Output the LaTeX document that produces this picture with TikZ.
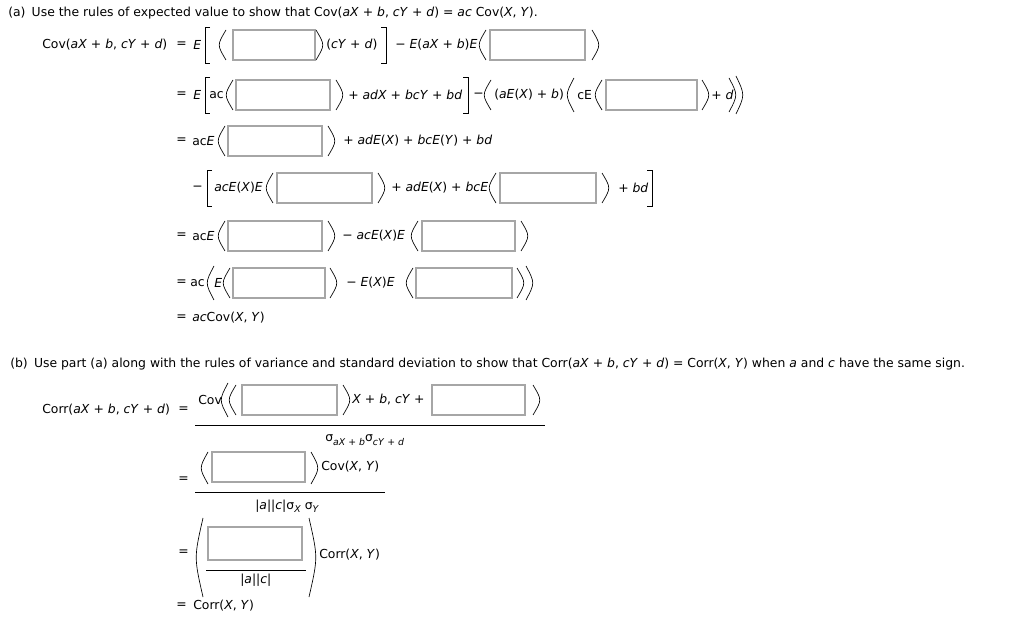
\documentclass[tikz,border=0pt]{standalone}
\usepackage{fontspec}
\setmainfont{DejaVu Sans}
\newcommand\lpar[3]{\draw[par] ({#1+5},#2) .. controls ({#1-4},{(#2+#3)/2}) .. ({#1+5},#3);}
\newcommand\rpar[3]{\draw[par] ({#1-5},#2) .. controls ({#1+4},{(#2+#3)/2}) .. ({#1-5},#3);}
\newcommand\lbr[3]{\draw[par] ({#1+5},#2) -- (#1,#2) -- (#1,#3) -- ({#1+5},#3);}
\newcommand\rbr[3]{\draw[par] ({#1-5},#2) -- (#1,#2) -- (#1,#3) -- ({#1-5},#3);}
\newcommand\bx[5]{\draw[box] (#2,#3) rectangle (#4,#5) node[midway,inner sep=0] (#1) {};}
\newcommand\tx[4]{\node[txt] (#1) at (#2,#3) {#4};}
\begin{document}
\begin{tikzpicture}[x=0.75pt,y=-0.75pt,
 txt/.style={anchor=west,inner sep=0,font=\fontsize{9.3}{11}\selectfont},
 par/.style={line width=0.5pt,black},
 box/.style={draw=gray!70,line width=0.8pt}]
\useasboundingbox (0,0) rectangle (1024,630);
\tx{ta}{8}{13}{(a)\enspace Use the rules of expected value to show that Cov(\textit{aX} + \textit{b}, \textit{cY} + \textit{d}) = \textit{ac} Cov(\textit{X}, \textit{Y}).}
% row 1
\tx{c1}{42}{45}{Cov(\textit{aX} + \textit{b}, \textit{cY} + \textit{d})}
\tx{q1}{176}{45}{=}\tx{e1}{193}{45}{\textit{E}}
\lbr{205}{27}{63}\lpar{221}{30}{60}\bx{b1}{233}{30}{315}{60}\rpar{321}{30}{60}
\tx{r1}{326}{45}{(\textit{cY} + \textit{d})}\rbr{386}{27}{63}
\tx{r1b}{395}{45}{− \textit{E}(\textit{aX} + \textit{b})\textit{E}}
\lpar{481}{30}{60}\bx{b2}{490}{30}{585}{60}\rpar{597}{30}{60}
% row 2
\tx{q2}{176}{95}{=}\tx{e2}{193}{95}{\textit{E}}
\lbr{205}{77}{113}\tx{r2a}{209}{95}{ac}\lpar{228}{80}{110}\bx{b3}{236}{80}{330}{110}\rpar{341}{80}{110}
\tx{r2b}{348}{95}{+ \textit{adX} + \textit{bcY} + \textit{bd}}\rbr{468}{77}{113}
\tx{r2c}{473}{95}{−}\lpar{486}{80}{110}\tx{r2d}{494}{95}{(\textit{aE}(\textit{X}) + \textit{b})}
\lpar{569}{78}{112}\tx{r2e}{577}{95}{cE}\lpar{597}{80}{110}\bx{b4}{606}{80}{697}{110}\rpar{707}{80}{110}
\tx{r2f}{711}{95}{+ \textit{d}}\rpar{734}{78}{112}\rpar{741}{76}{114}
% row 3
\tx{q3}{176}{141}{=}\tx{e3}{192}{141}{ac\textit{E}}\lpar{220}{126}{156}\bx{b5}{228}{126}{322}{156}\rpar{333}{126}{156}
\tx{r3}{343}{141}{+ \textit{adE}(\textit{X}) + \textit{bcE}(\textit{Y}) + \textit{bd}}
% row 4
\tx{e4}{192}{188}{−}\lbr{207}{170}{206}\tx{r4a}{214}{188}{\textit{acE}(\textit{X})\textit{E}}
\lpar{268}{173}{203}\bx{b6}{277}{173}{372}{203}\rpar{383}{173}{203}
\tx{r4b}{391}{188}{+ \textit{adE}(\textit{X}) + \textit{bcE}}
\lpar{491}{173}{203}\bx{b7}{500}{173}{596}{203}\rpar{607}{173}{203}
\tx{r4c}{618}{188}{+ \textit{bd}}\rbr{652}{170}{206}
% row 5
\tx{q5}{176}{236}{=}\tx{e5}{192}{236}{ac\textit{E}}\lpar{220}{221}{251}\bx{b8}{228}{221}{322}{251}\rpar{333}{221}{251}
\tx{r5}{342}{236}{− \textit{acE}(\textit{X})\textit{E}}\lpar{413}{221}{251}\bx{b9}{422}{221}{515}{251}\rpar{526}{221}{251}
% row 6
\tx{q6}{176}{283}{=}\tx{e6}{190}{283}{ac}\lpar{209}{266}{300}\tx{r6a}{214}{283}{\textit{E}}\lpar{225}{268}{298}\bx{b10}{233}{268}{325}{298}\rpar{335}{268}{298}
\tx{r6b}{346}{283}{− \textit{E}(\textit{X})\textit{E}}\lpar{408}{268}{298}\bx{b11}{416}{268}{512}{298}\rpar{522}{268}{298}\rpar{531}{266}{300}
\tx{q7}{176}{318}{=}\tx{e7}{192}{318}{\textit{ac}Cov(\textit{X}, \textit{Y})}
% (b)
\tx{tb}{10}{364}{(b)\enspace Use part (a) along with the rules of variance and standard deviation to show that Corr(\textit{aX} + \textit{b}, \textit{cY} + \textit{d}) = Corr(\textit{X}, \textit{Y}) when \textit{a} and \textit{c} have the same sign.}
\tx{c2}{42}{410}{Corr(\textit{aX} + \textit{b}, \textit{cY} + \textit{d})}
\tx{q8}{178}{410}{=}
\tx{n1}{198}{400}{Cov}\lpar{223}{383}{417}\lpar{231}{385}{415}\bx{b12}{242}{385}{337}{415}\rpar{348}{385}{415}
\tx{n1b}{352}{400}{\textit{X} + \textit{b}, \textit{cY} +}\bx{b13}{432}{385}{525}{415}\rpar{538}{385}{415}
\draw[par] (195,425) -- (545,425);
\node[txt] (d1) at (325,440) {σ\raisebox{-0.5ex}{\scriptsize\textit{aX} + \textit{b}}σ\raisebox{-0.5ex}{\scriptsize\textit{cY} + \textit{d}}};
\tx{e8}{178}{480}{=}
\lpar{203}{452}{484}\bx{b14}{212}{452}{305}{482}\rpar{316}{452}{484}\tx{n2}{321}{467}{Cov(\textit{X}, \textit{Y})}
\draw[par] (195,492) -- (385,492);
\node[txt] (d2) at (255,506) {|\textit{a}||\textit{c}|σ\raisebox{-0.5ex}{\scriptsize\textit{X}} σ\raisebox{-0.5ex}{\scriptsize\textit{Y}}};
\tx{e9}{178}{553}{=}
\lpar{198}{518}{597}\bx{b15}{208}{527}{302}{560}\draw[par] (206,570) -- (306,570);
\tx{d3}{240}{580}{|\textit{a}||\textit{c}|}\rpar{314}{518}{597}
\tx{n3}{319}{555}{Corr(\textit{X}, \textit{Y})}
\tx{q10}{176}{606}{=}\tx{e10}{193}{606}{Corr(\textit{X}, \textit{Y})}
\end{tikzpicture}
\end{document}
